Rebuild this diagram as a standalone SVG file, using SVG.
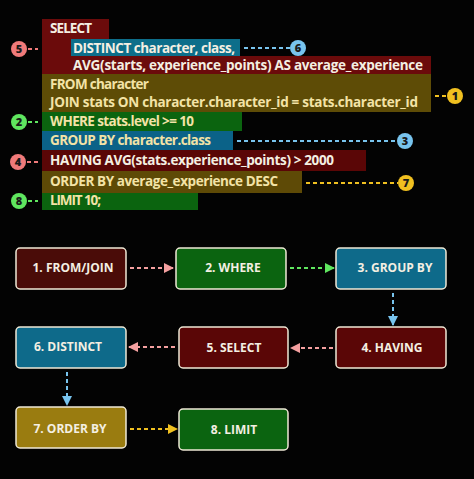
<svg xmlns="http://www.w3.org/2000/svg" width="474" height="479" viewBox="0 0 474 479">
<defs>
<style>
.code{font-family:"Open Sans","Noto Sans",sans-serif;font-weight:700;font-size:13.5px;fill:#f4efe2}
.yel{fill:#f3e3a6}
.box{stroke:#efe9d6;stroke-width:1.5}
.lbl{font-family:"Open Sans","Noto Sans",sans-serif;font-weight:700;font-size:12px;fill:#f4efe2;text-anchor:middle}
.bt{font-family:"Open Sans","Noto Sans",sans-serif;font-weight:800;font-size:11px;fill:#1a1a1a;text-anchor:middle}
.dash{fill:none;stroke-width:2;stroke-dasharray:4 3}
</style>
<marker id="mPink" viewBox="0 0 10 10" refX="9" refY="5" markerWidth="5" markerHeight="5" orient="auto"><path d="M0,0 L10,5 L0,10 z" fill="#f4a0a0"/></marker>
<marker id="mGreen" viewBox="0 0 10 10" refX="9" refY="5" markerWidth="5" markerHeight="5" orient="auto"><path d="M0,0 L10,5 L0,10 z" fill="#5fe65f"/></marker>
<marker id="mBlue" viewBox="0 0 10 10" refX="9" refY="5" markerWidth="5" markerHeight="5" orient="auto"><path d="M0,0 L10,5 L0,10 z" fill="#78c4ee"/></marker>
<marker id="mYel" viewBox="0 0 10 10" refX="9" refY="5" markerWidth="5" markerHeight="5" orient="auto"><path d="M0,0 L10,5 L0,10 z" fill="#f0c020"/></marker>
</defs>
<rect width="474" height="479" fill="#030303"/>

<g id="code">
<path d="M42,19 H109 V56 H431 V74 H42 Z" fill="#6b0b0b"/>
<rect x="71" y="39" width="169" height="17" fill="#0d6e8a"/>
<rect x="42" y="74" width="389" height="38" fill="#5e4c06"/>
<rect x="42" y="112" width="200" height="19" fill="#0b640f"/>
<rect x="42" y="131" width="191" height="19" fill="#0b6288"/>
<rect x="42" y="150" width="324" height="21" fill="#5a0606"/>
<rect x="42" y="171" width="260" height="22" fill="#5e4a06"/>
<rect x="42" y="193" width="156" height="17" fill="#0b640f"/>
<text class="code" x="50" y="33" textLength="42">SELECT</text>
<text class="code" x="73" y="53" textLength="162">DISTINCT character, class,</text>
<text class="code" x="73" y="70" textLength="350">AVG(starts, experience_points) AS average_experience</text>
<text class="code yel" x="50" y="89" textLength="99">FROM character</text>
<text class="code yel" x="50" y="106.5" textLength="368">JOIN stats ON character.character_id = stats.character_id</text>
<text class="code yel" x="50" y="126" textLength="144">WHERE stats.level &gt;= 10</text>
<text class="code yel" x="50" y="145" textLength="161">GROUP BY character.class</text>
<text class="code" x="50" y="165" textLength="284">HAVING AVG(stats.experience_points) &gt; 2000</text>
<text class="code yel" x="50" y="186" textLength="228">ORDER BY average_experience DESC</text>
<text class="code yel" x="50" y="205" textLength="51">LIMIT 10;</text>
</g>

<g id="badges">
<g id="b5"><line class="dash" x1="28" y1="49" x2="38" y2="49" stroke="#f07a7a"/><circle cx="19" cy="49" r="8" fill="#f07a7a"/><text class="bt" x="19" y="53">5</text></g>
<g id="b6"><line class="dash" x1="244" y1="48" x2="290" y2="48" stroke="#78c4ee"/><circle cx="298" cy="48" r="8" fill="#78c4ee"/><text class="bt" x="298" y="52">6</text></g>
<g id="b1"><line class="dash" x1="435" y1="96" x2="447" y2="96" stroke="#f0c020"/><circle cx="455" cy="96" r="8" fill="#f0c020"/><text class="bt" x="455" y="100">1</text></g>
<g id="b2"><line class="dash" x1="28" y1="122" x2="38" y2="122" stroke="#5fe65f"/><circle cx="19" cy="122" r="8" fill="#5fe65f"/><text class="bt" x="19" y="126">2</text></g>
<g id="b3"><line class="dash" x1="237" y1="141" x2="398" y2="141" stroke="#78c4ee"/><circle cx="405" cy="141" r="8" fill="#78c4ee"/><text class="bt" x="405" y="145">3</text></g>
<g id="b4"><line class="dash" x1="27" y1="162" x2="38" y2="162" stroke="#f07a7a"/><circle cx="18" cy="162" r="8" fill="#f07a7a"/><text class="bt" x="18" y="166">4</text></g>
<g id="b7"><line class="dash" x1="306" y1="183" x2="398" y2="183" stroke="#f0c020"/><circle cx="406" cy="183" r="8" fill="#f0c020"/><text class="bt" x="406" y="187">7</text></g>
<g id="b8"><line class="dash" x1="28" y1="201" x2="38" y2="201" stroke="#5fe65f"/><circle cx="19" cy="201" r="8" fill="#5fe65f"/><text class="bt" x="19" y="205">8</text></g>
</g>

<g id="connectors">
<line class="dash" x1="130" y1="268" x2="173" y2="268" stroke="#f4a0a0" marker-end="url(#mPink)"/>
<line class="dash" x1="290" y1="268" x2="334" y2="268" stroke="#5fe65f" marker-end="url(#mGreen)"/>
<line class="dash" x1="393" y1="293" x2="393" y2="325" stroke="#78c4ee" marker-end="url(#mBlue)"/>
<line class="dash" x1="333" y1="348" x2="291" y2="348" stroke="#f4a0a0" marker-end="url(#mPink)"/>
<line class="dash" x1="175" y1="347" x2="129" y2="347" stroke="#f4a0a0" marker-end="url(#mPink)"/>
<line class="dash" x1="67" y1="372" x2="67" y2="405" stroke="#78c4ee" marker-end="url(#mBlue)"/>
<line class="dash" x1="130" y1="429" x2="177" y2="429" stroke="#f0c020" marker-end="url(#mYel)"/>
</g>

<g id="n1"><rect class="box" x="16" y="248" width="110" height="41" rx="4" fill="#4a0c08"/><text class="lbl" x="73" y="272">1. FROM/JOIN</text></g>
<g id="n2"><rect class="box" x="176" y="248" width="110" height="41" rx="4" fill="#0b6410"/><text class="lbl" x="233" y="272">2. WHERE</text></g>
<g id="n3"><rect class="box" x="336" y="248" width="110" height="41" rx="4" fill="#0e6a8a"/><text class="lbl" x="395" y="272">3. GROUP BY</text></g>
<g id="n4"><rect class="box" x="336" y="327" width="110" height="41" rx="4" fill="#5a0606"/><text class="lbl" x="392" y="352">4. HAVING</text></g>
<g id="n5"><rect class="box" x="179" y="327" width="109" height="41" rx="4" fill="#5a0606"/><text class="lbl" x="234" y="352">5. SELECT</text></g>
<g id="n6"><rect class="box" x="16" y="327" width="110" height="41" rx="4" fill="#0e6a8a"/><text class="lbl" x="68" y="351">6. DISTINCT</text></g>
<g id="n7"><rect class="box" x="16" y="407" width="110" height="41" rx="4" fill="#9a7c10"/><text class="lbl" x="70" y="433">7. ORDER BY</text></g>
<g id="n8"><rect class="box" x="179" y="409" width="109" height="41" rx="4" fill="#0b6410"/><text class="lbl" x="234" y="434">8. LIMIT</text></g>
</svg>
